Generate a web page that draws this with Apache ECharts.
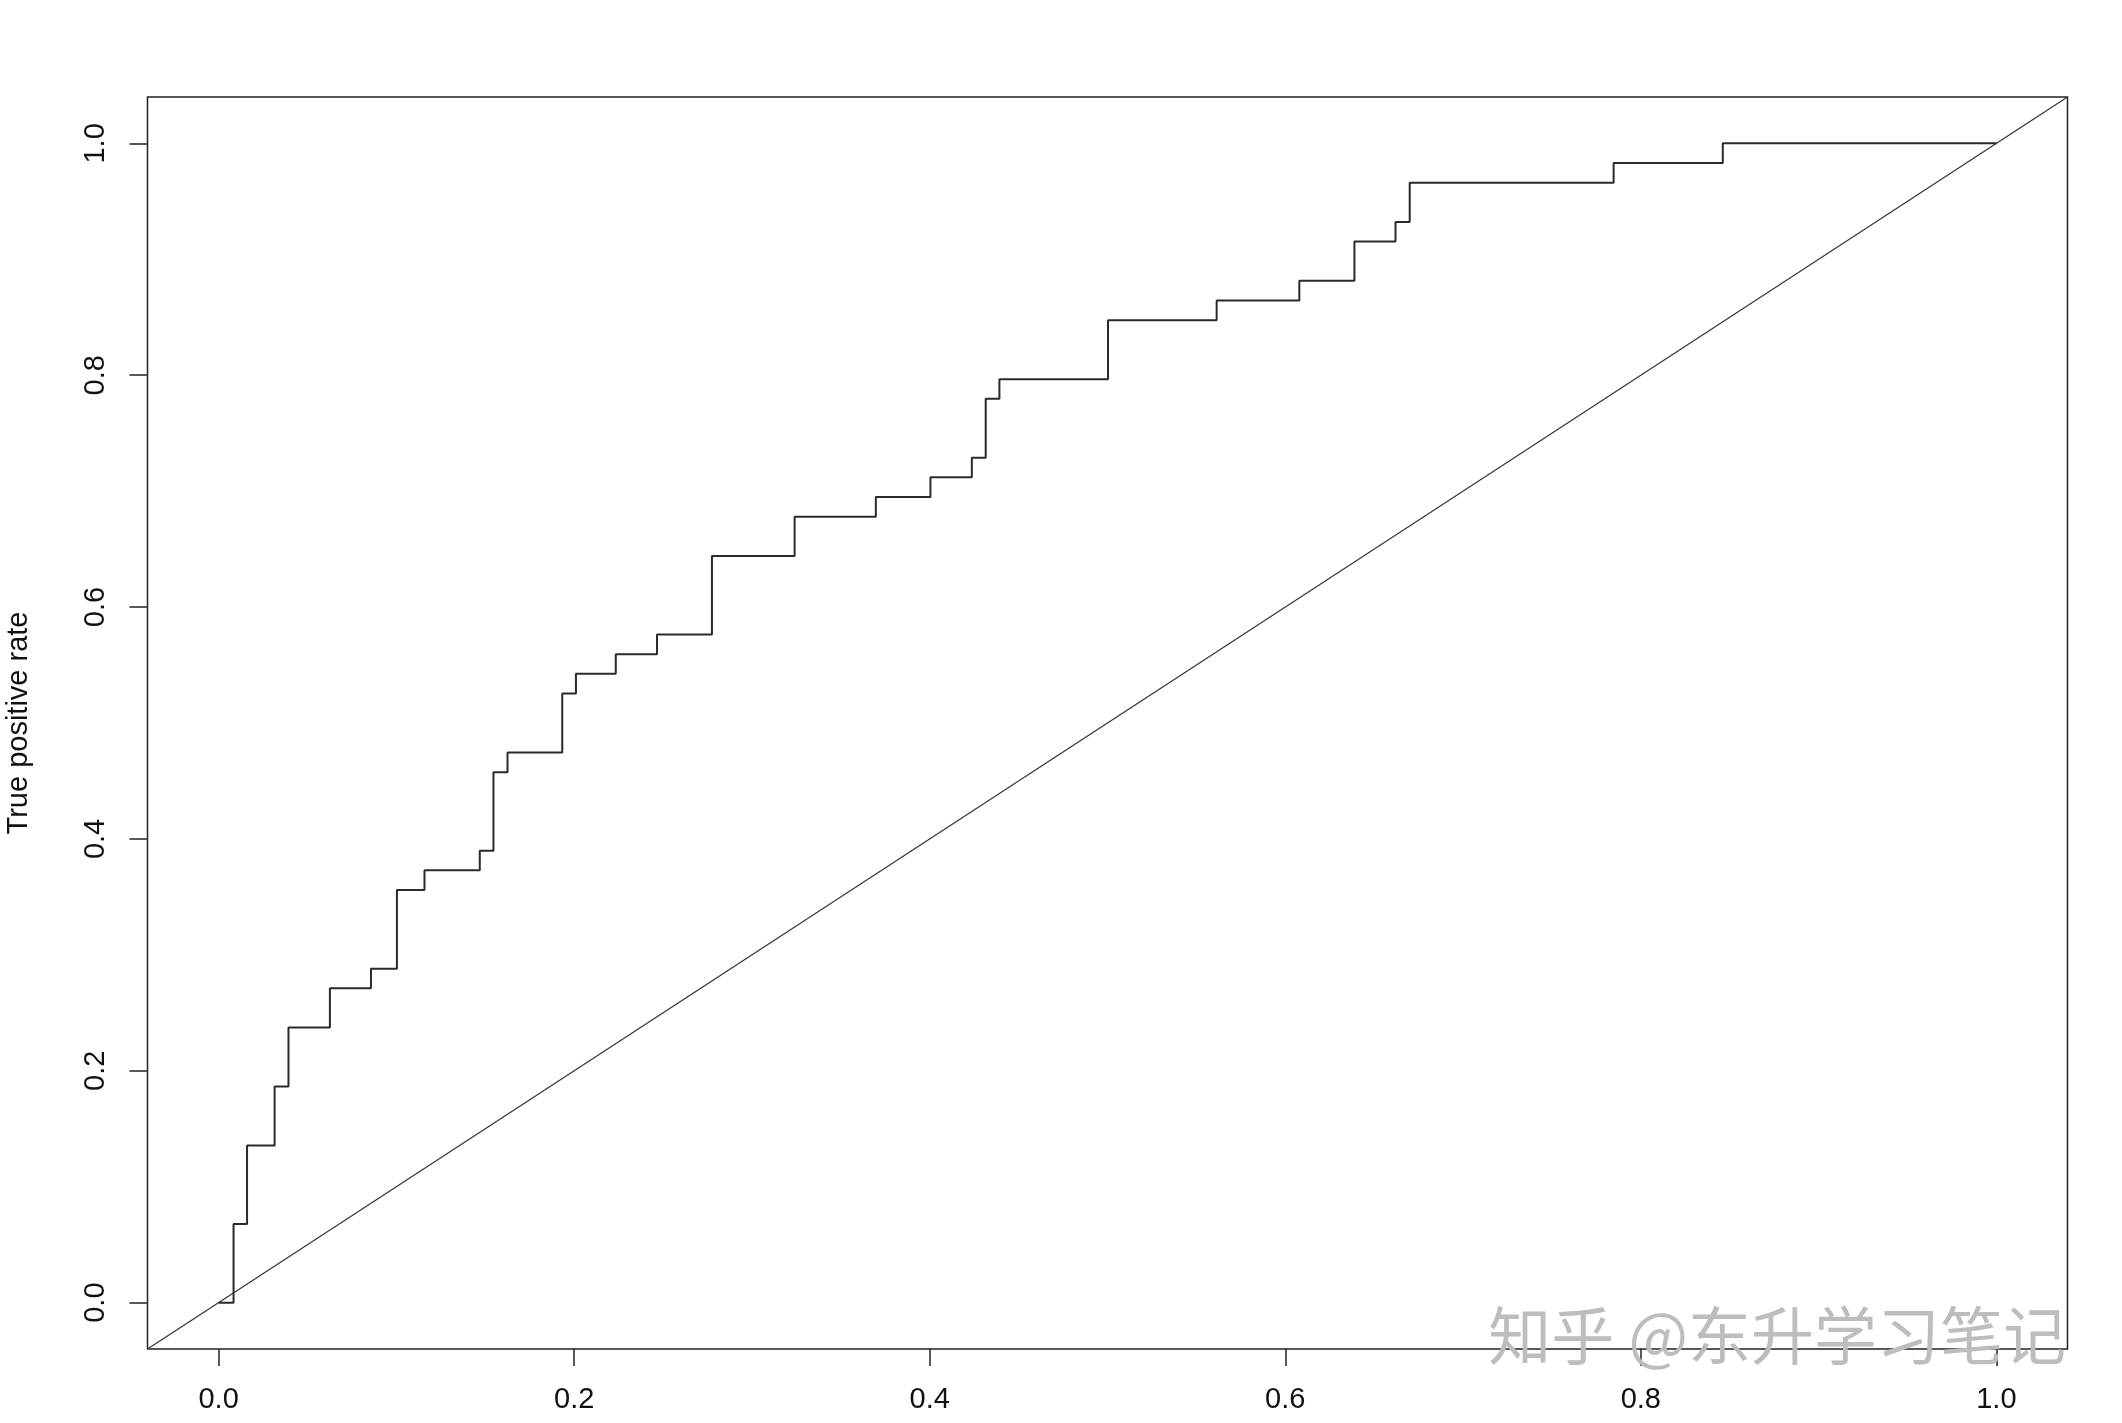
<!DOCTYPE html>
<html>
<head>
<meta charset="utf-8">
<script src="https://cdn.jsdelivr.net/npm/echarts@6/dist/echarts.min.js"></script>
<style>
  html, body { margin: 0; padding: 0; background: #ffffff; }
  #chart { width: 2122px; height: 1423px; }
</style>
</head>
<body>
<div id="chart"></div>
<script>
// False positive rate at each step of the ROC curve
const fpr = [0, 0.0084, 0.016, 0.0315, 0.0393, 0.0626, 0.0857, 0.1003, 0.1158, 0.1469,
  0.1546, 0.1625, 0.1933, 0.201, 0.2234, 0.2466, 0.2775, 0.324, 0.3697, 0.4004,
  0.4237, 0.4315, 0.4392, 0.5003, 0.5614, 0.6079, 0.6389, 0.662, 0.67, 0.7847,
  0.8461, 1.0];
// True positive rate reached at each step
const tpr = [0, 0.0678, 0.1356, 0.1864, 0.2373, 0.2712, 0.2881, 0.3559, 0.3729, 0.3898,
  0.4576, 0.4746, 0.5254, 0.5424, 0.5593, 0.5763, 0.6441, 0.678, 0.6949, 0.7119,
  0.7288, 0.7797, 0.7966, 0.8475, 0.8644, 0.8814, 0.9153, 0.9322, 0.9661, 0.9831,
  1.0, 1.0];
// Reference diagonal (y = x) across the full plot range
const diagX = [-0.04, 1.04];
const diagY = [-0.04, 1.04];
// Axis ticks
const tickValues = [0, 0.2, 0.4, 0.6, 0.8, 1.0];
const axisRange = [-0.04, 1.04];
const yTitle = 'True positive rate';
const watermark = '知乎 @东升学习笔记';

const curveData = fpr.map((x, i) => [x, tpr[i]]);
const diagData = diagX.map((x, i) => [x, diagY[i]]);

const font = "'Liberation Sans', Arial, sans-serif";
const chart = echarts.init(document.getElementById('chart'), null, { renderer: 'canvas' });
chart.setOption({
  backgroundColor: '#ffffff',
  animation: false,
  grid: {
    left: 147.5, top: 97, width: 1920, height: 1252,
    containLabel: false, outerBoundsMode: 'none',
    show: true, borderColor: '#222', borderWidth: 1.5, backgroundColor: 'transparent'
  },
  xAxis: {
    type: 'value', min: axisRange[0], max: axisRange[1], position: 'bottom',
    axisLine: { show: false, onZero: false },
    splitLine: { show: false },
    axisTick: { show: true, inside: false, length: 17, customValues: tickValues,
      lineStyle: { color: '#222', width: 1.5 } },
    axisLabel: { show: true, customValues: tickValues, margin: 36,
      formatter: v => v.toFixed(1),
      fontFamily: font, fontSize: 29, color: '#111' }
  },
  yAxis: {
    type: 'value', min: axisRange[0], max: axisRange[1], position: 'left',
    name: yTitle, nameLocation: 'middle', nameGap: 114, nameRotate: 90,
    nameTextStyle: { fontFamily: font, fontSize: 29, color: '#111' },
    axisLine: { show: false, onZero: false },
    splitLine: { show: false },
    axisTick: { show: true, inside: false, length: 18, customValues: tickValues,
      lineStyle: { color: '#222', width: 1.5 } },
    axisLabel: { show: true, customValues: tickValues, margin: 37, rotate: 90,
      formatter: v => v.toFixed(1),
      fontFamily: font, fontSize: 29, color: '#111' }
  },
  series: [
    {
      type: 'line', data: diagData, showSymbol: false, symbol: 'none',
      lineStyle: { color: '#333', width: 1.2 }, silent: true, z: 2
    },
    {
      type: 'line', data: curveData, step: 'end', showSymbol: false, symbol: 'none',
      lineStyle: { color: '#2a2a2a', width: 2 }, silent: true, z: 3
    }
  ],
  graphic: [
    {
      type: 'text', right: 56, top: 1304, z: 100,
      style: {
        text: watermark,
        font: "63px 'Noto Sans CJK SC', sans-serif",
        fill: '#bdbdbd',
        shadowColor: 'rgba(40,40,40,0.75)', shadowOffsetX: 1.5, shadowOffsetY: 1.5, shadowBlur: 0
      }
    }
  ]
});
</script>
</body>
</html>
